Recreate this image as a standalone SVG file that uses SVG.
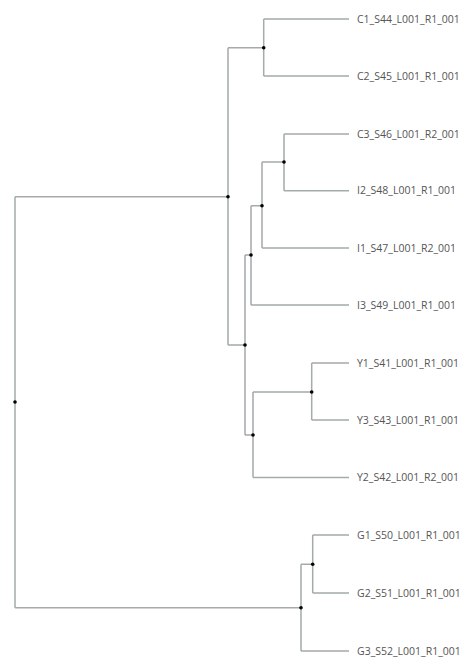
<svg xmlns="http://www.w3.org/2000/svg" width="474" height="664" viewBox="0 0 474 664">
<style>
.e{fill:none;stroke:#a3abab;stroke-width:1.5}
.d{fill:#000}
.t{font-family:"Open Sans","Noto Sans",sans-serif;font-size:10.5px;fill:#555}
</style>
<rect width="474" height="664" fill="#fff"/>
<g id="connectors">
<path class="e" d="M15,196.7V607.7"/>
<path class="e" d="M15,196.7H228M15,607.7H301"/>
<path class="e" d="M228,47.7V345M228,47.7H263.7M228,345H245"/>
<path class="e" d="M263.7,19V76M263.7,19H349M263.7,76H349"/>
<path class="e" d="M245,255V435M245,255H251M245,435H253"/>
<path class="e" d="M251,205.7V305M251,205.7H262M251,305H349"/>
<path class="e" d="M262,162V248M262,162H284M262,248H349"/>
<path class="e" d="M284,134V190.7M284,134H349M284,190.7H349"/>
<path class="e" d="M253,392V477.5M253,392H311.7M253,477.5H349"/>
<path class="e" d="M311.7,363V420M311.7,363H349M311.7,420H349"/>
<path class="e" d="M301,564.3V651M301,564.3H312.7M301,651H349"/>
<path class="e" d="M312.7,535V593M312.7,535H349M312.7,593H349"/>
</g>
<g id="n-root"><circle class="d" cx="15" cy="402" r="1.8"/></g>
<g id="n-top"><circle class="d" cx="228" cy="196.7" r="1.8"/></g>
<g id="n-c12"><circle class="d" cx="263.7" cy="47.7" r="1.8"/></g>
<g id="n-a"><circle class="d" cx="245" cy="345" r="1.8"/></g>
<g id="n-b"><circle class="d" cx="251" cy="255" r="1.8"/></g>
<g id="n-c"><circle class="d" cx="262" cy="205.7" r="1.8"/></g>
<g id="n-d"><circle class="d" cx="284" cy="162" r="1.8"/></g>
<g id="n-y"><circle class="d" cx="253" cy="435" r="1.8"/></g>
<g id="n-y13"><circle class="d" cx="311.7" cy="392" r="1.8"/></g>
<g id="n-g"><circle class="d" cx="301" cy="607.7" r="1.8"/></g>
<g id="n-g12"><circle class="d" cx="312.7" cy="564.3" r="1.8"/></g>
<g id="leaf-C1"><text class="t" x="357" y="22.7">C1_S44_L001_R1_001</text></g>
<g id="leaf-C2"><text class="t" x="357" y="79.7">C2_S45_L001_R1_001</text></g>
<g id="leaf-C3"><text class="t" x="357" y="137.7">C3_S46_L001_R2_001</text></g>
<g id="leaf-I2"><text class="t" x="357" y="194.4">I2_S48_L001_R1_001</text></g>
<g id="leaf-I1"><text class="t" x="357" y="251.7">I1_S47_L001_R2_001</text></g>
<g id="leaf-I3"><text class="t" x="357" y="308.7">I3_S49_L001_R1_001</text></g>
<g id="leaf-Y1"><text class="t" x="357" y="366.7">Y1_S41_L001_R1_001</text></g>
<g id="leaf-Y3"><text class="t" x="357" y="423.7">Y3_S43_L001_R1_001</text></g>
<g id="leaf-Y2"><text class="t" x="357" y="481.2">Y2_S42_L001_R2_001</text></g>
<g id="leaf-G1"><text class="t" x="357" y="538.7">G1_S50_L001_R1_001</text></g>
<g id="leaf-G2"><text class="t" x="357" y="596.7">G2_S51_L001_R1_001</text></g>
<g id="leaf-G3"><text class="t" x="357" y="654.7">G3_S52_L001_R1_001</text></g>
</svg>
